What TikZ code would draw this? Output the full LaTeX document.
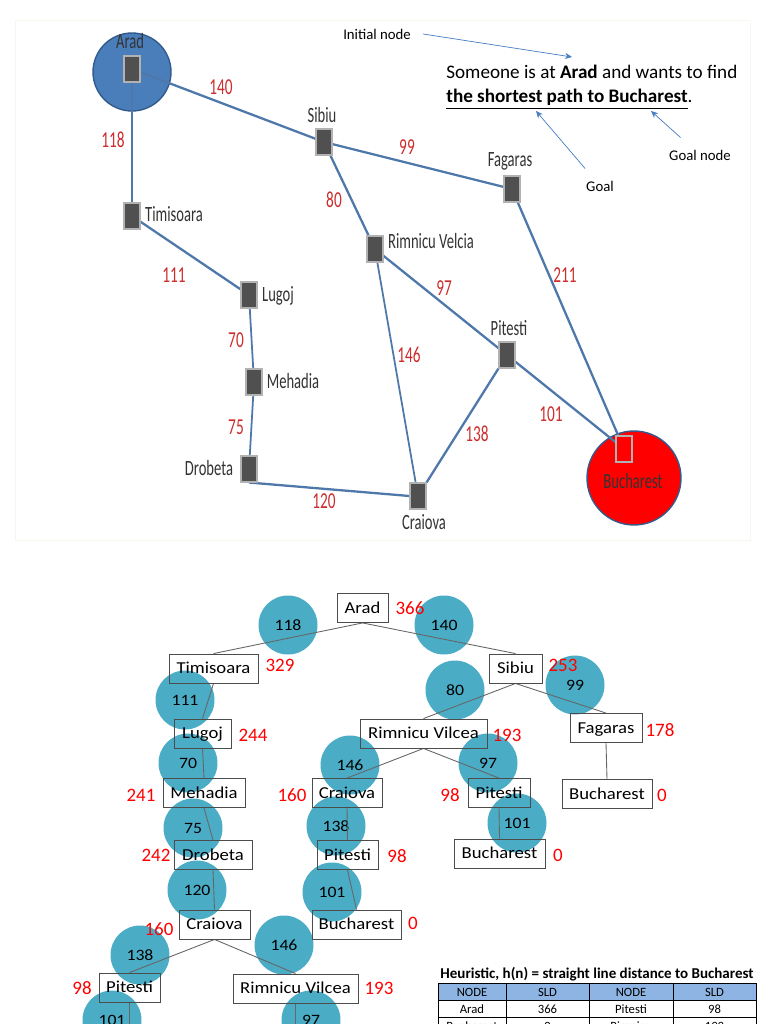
\documentclass[tikz,border=0pt]{standalone}
\usepackage{fontspec}
\setmainfont{Carlito}
\newfontfamily\treefont[FakeStretch=1.12]{Carlito}
\newfontfamily\mapfont[FakeStretch=0.67]{Carlito}
\usetikzlibrary{arrows.meta}
\definecolor{routeblue}{RGB}{79,120,170}
\definecolor{aradblue}{RGB}{74,126,187}
\definecolor{aradrim}{RGB}{50,90,140}
\definecolor{bubbleblue}{RGB}{75,172,198}
\definecolor{costred}{RGB}{205,45,45}
\definecolor{squaregray}{RGB}{80,80,80}
\definecolor{headblue}{RGB}{141,180,226}
\definecolor{panelline}{RGB}{248,246,238}
\definecolor{notearrow}{RGB}{70,125,195}
\pgfdeclarelayer{bubblelayer}
\pgfdeclarelayer{edgelayer}
\pgfdeclarelayer{nodelayer}
\pgfsetlayers{main,bubblelayer,edgelayer,nodelayer}
\tikzstyle{city}=[rectangle,fill=squaregray,draw=black!30,line width=0.6pt,minimum width=0.32cm,minimum height=0.52cm,inner sep=0pt]
\tikzstyle{cityname}=[font=\mapfont\fontsize{12.4}{14}\selectfont,text=black!80,inner sep=0pt]
\tikzstyle{weight}=[font=\mapfont\fontsize{13}{15}\selectfont,text=costred,inner sep=0pt]
\tikzstyle{route}=[draw=routeblue,line width=1.3pt]
\tikzstyle{thinroute}=[draw=routeblue,line width=1pt]
\tikzstyle{note}=[font=\fontsize{8.4}{10}\selectfont,inner sep=1pt,outer sep=6pt]
\tikzstyle{notearrow}=[draw=notearrow,line width=0.4pt,-{Stealth[length=4pt,width=3.5pt]}]
\tikzstyle{citybox}=[rectangle,draw=black!70,line width=0.5pt,minimum height=0.58cm,inner sep=0pt,text height=6pt,text depth=0pt,font=\treefont\fontsize{9.5}{11}\selectfont]
\tikzstyle{bubble}=[circle,fill=bubbleblue,minimum size=1.18cm,inner sep=0pt,font=\treefont\fontsize{9}{11}\selectfont]
\tikzstyle{sld}=[text=red,inner sep=0pt,font=\fontsize{10.8}{12}\selectfont]
\tikzstyle{link}=[draw=black!60,line width=0.5pt]
\tikzstyle{cell}=[rectangle,draw=black,line width=0.4pt,minimum height=0.34cm,inner sep=0pt,font=\fontsize{7.2}{8}\selectfont]
\tikzstyle{headcell}=[cell,fill=headblue]

\begin{document}
\begin{tikzpicture}[x=0.02cm,y=-0.02cm]
        \useasboundingbox (0, 0) rectangle (768, 1024);
        \fill [white] (0, 0) rectangle (768, 1024);
        \draw [panelline, line width=0.5pt] (15, 20) rectangle (750, 540);

        \begin{pgfonlayer}{bubblelayer}
            \node [circle, fill=aradblue, draw=aradrim, line width=0.8pt, minimum size=1.56cm] (aradzone) at (132, 72) {};
            \node [circle, fill=red, draw=aradrim, line width=0.8pt, minimum size=1.88cm] (bucharestzone) at (634, 478) {};

            \node [style = bubble] (b118) at (288, 625) {118};
            \node [style = bubble] (b140) at (444, 625) {140};
            \node [style = bubble] (b80) at (455, 690) {80};
            \node [style = bubble] (b99) at (575, 685) {99};
            \node [style = bubble] (b111) at (185, 700) {111};
            \node [style = bubble] (b70) at (188, 763) {70};
            \node [style = bubble] (b146a) at (350, 765) {146};
            \node [style = bubble] (b97a) at (488, 763) {97};
            \node [style = bubble] (b75) at (193, 828) {75};
            \node [style = bubble] (b138a) at (336, 826) {138};
            \node [style = bubble] (b101a) at (517, 823) {101};
            \node [style = bubble] (b120) at (197, 890) {120};
            \node [style = bubble] (b101b) at (332, 892) {101};
            \node [style = bubble] (b138b) at (140, 955) {138};
            \node [style = bubble] (b146b) at (284, 945) {146};
            \node [style = bubble] (b101c) at (112, 1020) {101};
            \node [style = bubble] (b97b) at (311, 1020) {97};
        \end{pgfonlayer}

        \begin{pgfonlayer}{nodelayer}
            % road map
            \node [style = city] (arad) at (132, 69) {};
            \node [style = city] (sibiu) at (324, 142) {};
            \node [style = city] (fagaras) at (512, 189) {};
            \node [style = city] (timisoara) at (132, 216) {};
            \node [style = city] (rimnicu) at (375, 249) {};
            \node [style = city] (lugoj) at (249, 295) {};
            \node [style = city] (mehadia) at (254, 382) {};
            \node [style = city] (pitesti) at (507, 355) {};
            \node [style = city] (drobeta) at (249, 469) {};
            \node [style = city] (craiova) at (418, 496) {};
            \node [style = city, fill=red] (bucharest) at (624, 449) {};

            \node [style = cityname] (aradname) at (130, 41) {Arad};
            \node [style = cityname] (sibiuname) at (322, 115) {Sibiu};
            \node [style = cityname] (fagarasname) at (510, 161) {Fagaras};
            \node [style = cityname] (timisoaraname) at (174, 214) {Timisoara};
            \node [style = cityname] (rimnicuname) at (431, 241) {Rimnicu Velcia};
            \node [style = cityname] (lugojname) at (278, 296) {Lugoj};
            \node [style = cityname] (mehadianame) at (293, 381) {Mehadia};
            \node [style = cityname] (pitestiname) at (509, 328) {Pitesti};
            \node [style = cityname] (drobetaname) at (209, 468) {Drobeta};
            \node [style = cityname] (craiovaname) at (424, 522) {Craiova};
            \node [style = cityname] (bucharestname) at (633, 481) {Bucharest};

            \node [style = weight] (w118) at (113, 140) {118};
            \node [style = weight] (w140) at (221, 87) {140};
            \node [style = weight] (w99) at (407, 147) {99};
            \node [style = weight] (w80) at (334, 200) {80};
            \node [style = weight] (w111) at (174, 275) {111};
            \node [style = weight] (w97) at (444, 288) {97};
            \node [style = weight] (w211) at (565, 275) {211};
            \node [style = weight] (w70) at (236, 340) {70};
            \node [style = weight] (w146) at (409, 355) {146};
            \node [style = weight] (w75) at (236, 427) {75};
            \node [style = weight] (w138) at (477, 434) {138};
            \node [style = weight] (w101) at (551, 414) {101};
            \node [style = weight] (w120) at (324, 501) {120};

            % notes
            \node [style = note] (initialnote) at (377, 34) {Initial node};
            \node [style = note] (goalnote) at (600, 186) {Goal};
            \node [style = note] (goalnodenote) at (700, 155) {Goal node};
            \node [align=left, anchor=north west, inner sep=0pt, font=\fontsize{10.9}{13.6}\selectfont] (problem) at (446, 65) {Someone is at \textbf{Arad} and wants to find\\\underline{\textbf{the shortest path to Bucharest}}.};
            \coordinate (initialtip) at (572, 57);
            \coordinate (goaltip) at (536, 111);
            \coordinate (goalnodetip) at (651, 111);

            % search tree
            \node [style = citybox, minimum width=1.02cm] (tarad) at (362.5, 608) {Arad};
            \node [style = citybox, minimum width=1.78cm] (ttimisoara) at (213.5, 668.5) {Timisoara};
            \node [style = citybox, minimum width=1.06cm] (tsibiu) at (515.5, 668.5) {Sibiu};
            \node [style = citybox, minimum width=1.14cm] (tlugoj) at (202.5, 733.5) {Lugoj};
            \node [style = citybox, minimum width=2.54cm] (trimnicu) at (423.5, 733.5) {Rimnicu Vilcea};
            \node [style = citybox, minimum width=1.44cm] (tfagaras) at (606, 728) {Fagaras};
            \node [style = citybox, minimum width=1.64cm] (tmehadia) at (204, 793) {Mehadia};
            \node [style = citybox, minimum width=1.40cm] (tcraiova) at (347, 793) {Craiova};
            \node [style = citybox, minimum width=1.24cm] (tpitesti) at (499, 793) {Pitesti};
            \node [style = citybox, minimum width=1.80cm] (tbucharest) at (607, 794) {Bucharest};
            \node [style = citybox, minimum width=1.82cm] (tbucharestb) at (499.5, 853.5) {Bucharest};
            \node [style = citybox, minimum width=1.56cm] (tdrobeta) at (213, 855) {Drobeta};
            \node [style = citybox, minimum width=1.22cm] (tpitestib) at (347.5, 855) {Pitesti};
            \node [style = citybox, minimum width=1.42cm] (tcraiovab) at (214.5, 924.5) {Craiova};
            \node [style = citybox, minimum width=1.78cm] (tbucharestc) at (356.5, 924.5) {Bucharest};
            \node [style = citybox, minimum width=1.22cm] (tpitestic) at (129.5, 987.5) {Pitesti};
            \node [style = citybox, minimum width=2.50cm] (trimnicub) at (295.5, 988.5) {Rimnicu Vilcea};
            \coordinate (tpitesticend) at (129.5, 1024);
            \coordinate (trimnicubend) at (295.5, 1024);

            \node [style = sld] (h366) at (410, 608) {366};
            \node [style = sld] (h329) at (280, 665) {329};
            \node [style = sld] (h253) at (563, 665) {253};
            \node [style = sld] (h244) at (253, 735) {244};
            \node [style = sld] (h193) at (507, 735) {193};
            \node [style = sld] (h178) at (660, 730) {178};
            \node [style = sld] (h241) at (141, 795) {241};
            \node [style = sld] (h160) at (292, 795) {160};
            \node [style = sld] (h98) at (450, 795) {98};
            \node [style = sld] (h0) at (662, 795) {0};
            \node [style = sld] (h0b) at (558, 855) {0};
            \node [style = sld] (h242) at (156, 855) {242};
            \node [style = sld] (h98b) at (397, 856) {98};
            \node [style = sld] (h160b) at (159, 929) {160};
            \node [style = sld] (h0c) at (413, 923) {0};
            \node [style = sld] (h98c) at (82, 988) {98};
            \node [style = sld] (h193b) at (379, 988) {193};

            % heuristic table
            \node [font=\bfseries\fontsize{8.55}{10}\selectfont, inner sep=0pt] (tabletitle) at (597, 974) {Heuristic, h(n) = straight line distance to Bucharest};
            \node [style = headcell, minimum width=1.36cm] (c11) at (472, 992) {NODE};
            \node [style = headcell, minimum width=1.66cm] (c12) at (547.5, 992) {SLD};
            \node [style = headcell, minimum width=1.68cm] (c13) at (631, 992) {NODE};
            \node [style = headcell, minimum width=1.66cm] (c14) at (714.5, 992) {SLD};
            \node [style = cell, minimum width=1.36cm] (c21) at (472, 1009) {Arad};
            \node [style = cell, minimum width=1.66cm] (c22) at (547.5, 1009) {366};
            \node [style = cell, minimum width=1.68cm] (c23) at (631, 1009) {Pitesti};
            \node [style = cell, minimum width=1.66cm] (c24) at (714.5, 1009) {98};
            \node [style = cell, minimum width=1.36cm] (c31) at (472, 1026) {Bucharest};
            \node [style = cell, minimum width=1.66cm] (c32) at (547.5, 1026) {0};
            \node [style = cell, minimum width=1.68cm] (c33) at (631, 1026) {Rimnicu};
            \node [style = cell, minimum width=1.66cm] (c34) at (714.5, 1026) {193};
        \end{pgfonlayer}

        \begin{pgfonlayer}{edgelayer}
            \draw [style = route] (arad) to (sibiu);
            \draw [style = thinroute] (arad) to (timisoara);
            \draw [style = route] (sibiu) to (fagaras);
            \draw [style = route] (sibiu) to (rimnicu);
            \draw [style = route] (timisoara) to (lugoj);
            \draw [style = route] (fagaras) to (bucharest);
            \draw [style = route] (rimnicu) to (pitesti);
            \draw [style = thinroute] (rimnicu) to (craiova);
            \draw [style = thinroute] (lugoj) to (mehadia);
            \draw [style = thinroute] (mehadia) to (drobeta);
            \draw [style = route] (pitesti) to (bucharest);
            \draw [style = route] (pitesti) to (craiova);
            \draw [style = route] (drobeta.south) to (craiova.west);

            \draw [style = notearrow] (initialnote.east) to (initialtip);
            \draw [style = notearrow] (goalnote) to (goaltip);
            \draw [style = notearrow] (goalnodenote) to (goalnodetip);

            \draw [style = link] (tarad.south) to (ttimisoara.north);
            \draw [style = link] (tarad.south) to (tsibiu.north);
            \draw [style = link] (ttimisoara.south) to (tlugoj.north);
            \draw [style = link] (tlugoj.south) to (tmehadia.north);
            \draw [style = link] (tmehadia.south) to (tdrobeta.north);
            \draw [style = link] (tdrobeta.south) to (tcraiovab.north);
            \draw [style = link] (tcraiovab.south) to (tpitestic.north);
            \draw [style = link] (tcraiovab.south) to (trimnicub.north);
            \draw [style = link] (tpitestic.south) to (tpitesticend);
            \draw [style = link] (trimnicub.south) to (trimnicubend);
            \draw [style = link] (tsibiu.south) to (trimnicu.north);
            \draw [style = link] (tsibiu.south) to (tfagaras.north);
            \draw [style = link] (tfagaras.south) to (tbucharest.north);
            \draw [style = link] (trimnicu.south) to (tcraiova.north);
            \draw [style = link] (trimnicu.south) to (tpitesti.north);
            \draw [style = link] (tpitesti.south) to (tbucharestb.north);
            \draw [style = link] (tcraiova.south) to (tpitestib.north);
            \draw [style = link] (tpitestib.south) to (tbucharestc.north);
        \end{pgfonlayer}
    \end{tikzpicture}
\end{document}
